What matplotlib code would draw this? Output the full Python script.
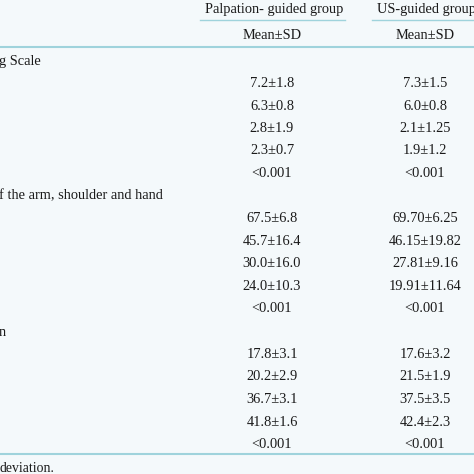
import matplotlib
matplotlib.use("Agg")
import matplotlib.pyplot as plt

groups = ["Palpation- guided group", "US-guided group"]
sections = ["g Scale", "f the arm, shoulder and hand", "n"]
palp = [["7.2±1.8", "6.3±0.8", "2.8±1.9", "2.3±0.7", "<0.001"],
        ["67.5±6.8", "45.7±16.4", "30.0±16.0", "24.0±10.3", "<0.001"],
        ["17.8±3.1", "20.2±2.9", "36.7±3.1", "41.8±1.6", "<0.001"]]
us = [["7.3±1.5", "6.0±0.8", "2.1±1.25", "1.9±1.2", "<0.001"],
      ["69.70±6.25", "46.15±19.82", "27.81±9.16", "19.91±11.64", "<0.001"],
      ["17.6±3.2", "21.5±1.9", "37.5±3.5", "42.4±2.3", "<0.001"]]
footnote = "deviation."

fig = plt.figure(figsize=(4.74, 4.74), dpi=100)
fig.patch.set_facecolor("#f4f9fb")
ax = fig.add_axes([0, 0, 1, 1])
ax.set_xlim(0, 474); ax.set_ylim(474, 0); ax.axis("off")
fs = 10.4
fam = ["Liberation Serif", "DejaVu Serif"]
col = "#1a1a1a"
line = "#9fd3dc"
cx = [272, 425]
for x, g in zip(cx, groups):
    ax.text(x + 2, 9, g, ha="center", va="center", fontsize=fs, family=fam, color=col)
    ax.text(x, 35, "Mean±SD", ha="center", va="center", fontsize=fs, family=fam, color=col)
ax.plot([200, 345], [20, 20], color=line, lw=1)
ax.plot([372, 474], [20, 20], color=line, lw=1)
ax.plot([0, 474], [47, 47], color=line, lw=1.5)
ax.plot([0, 474], [454, 454], color=line, lw=1.5)
y0s = [61, 196, 332]
for s, y0, p, u in zip(sections, y0s, palp, us):
    ax.text(-1, y0, s, ha="left", va="center", fontsize=fs, family=fam, color=col)
    for i, (a, b) in enumerate(zip(p, u)):
        y = y0 + 22.5 * (i + 1)
        ax.text(cx[0], y, a, ha="center", va="center", fontsize=fs, family=fam, color=col)
        ax.text(cx[1], y, b, ha="center", va="center", fontsize=fs, family=fam, color=col)
ax.text(-1, 468, footnote, ha="left", va="center", fontsize=fs - 0.5, family=fam, color=col)
fig.savefig("out.png", dpi=100, facecolor=fig.get_facecolor())
